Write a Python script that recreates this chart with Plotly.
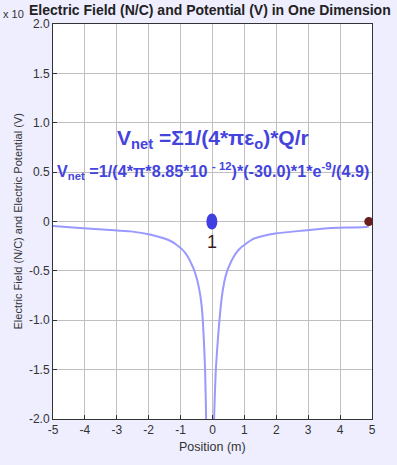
import plotly.graph_objects as go

# Potential curve (x in m, V in units of 10^3 V)
pot_x = [-5.0, -4.16, -3.2, -2.57, -2.0, -1.75, -1.53, -1.3, -1.11, -0.96, -0.85, -0.75,
         -0.66, -0.59, -0.49, -0.42, -0.36, -0.33, -0.30, -0.26, -0.23, -0.2, -0.19]
pot_y = [-0.045, -0.065, -0.085, -0.10, -0.13, -0.15, -0.17, -0.20, -0.24, -0.28, -0.32, -0.37,
         -0.43, -0.48, -0.58, -0.68, -0.80, -0.89, -1.02, -1.28, -1.53, -2.0, -2.4]
pot_x2 = [0.04, 0.05, 0.10, 0.17, 0.22, 0.29, 0.37, 0.45, 0.55, 0.66, 0.76, 0.87, 1.07,
          1.25, 1.49, 2.01, 2.74, 3.52, 4.82, 4.9]
pot_y2 = [-2.4, -2.0, -1.53, -1.19, -0.99, -0.77, -0.61, -0.51, -0.43, -0.36, -0.31, -0.27, -0.22,
          -0.18, -0.155, -0.12, -0.095, -0.07, -0.055, -0.05]

charge_x = [-0.02]
charge_y = [0.0]
charge_labels = ["1"]
test_x = [4.9]
test_y = [0.0]

x_ticks = [-5, -4, -3, -2, -1, 0, 1, 2, 3, 4, 5]
y_ticks = [2.0, 1.5, 1.0, 0.5, 0, -0.5, -1.0, -1.5, -2.0]
y_tick_text = ["2.0", "1.5", "1.0", "0.5", "0", "-0.5", "-1.0", "-1.5", "-2.0"]

FONT = "Liberation Sans, Arial, sans-serif"
TXT = "#333333"
BLUE = "#4444dd"
BG = "#eeeeff"

fig = go.Figure()
fig.add_trace(go.Scatter(x=pot_x, y=pot_y, mode="lines",
                         line=dict(color="#9999ff", width=2, shape="spline", smoothing=0.6),
                         hoverinfo="skip"))
fig.add_trace(go.Scatter(x=pot_x2, y=pot_y2, mode="lines",
                         line=dict(color="#9999ff", width=2, shape="spline", smoothing=0.6),
                         hoverinfo="skip"))
fig.add_trace(go.Scatter(x=test_x, y=test_y, mode="markers",
                         marker=dict(color="#6b1c1c", size=9, symbol="circle"),
                         cliponaxis=True))

shapes = []
for cx, cy in zip(charge_x, charge_y):
    shapes.append(dict(type="circle", xref="x", yref="y", xsizemode="pixel", ysizemode="pixel",
                       xanchor=cx, yanchor=cy, x0=-5.5, x1=5.5, y0=-8, y1=8,
                       fillcolor="#4040e0", line=dict(color="#4040e0", width=0)))

annotations = []
for cx, cy, lab in zip(charge_x, charge_y, charge_labels):
    annotations.append(dict(x=cx, y=cy, xref="x", yref="y", text=lab, showarrow=False,
                            yshift=-20, font=dict(family=FONT, size=18, color="#3a1a1a")))

annotations += [
    dict(x=0, y=1, xref="paper", yref="paper", xshift=-26, yshift=14.5, xanchor="left",
         yanchor="middle", showarrow=False,
         text="<b>Electric Field (N/C) and Potential (V) in One Dimension</b>",
         font=dict(family=FONT, size=14, color="#222222")),
    dict(x=0, y=1, xref="paper", yref="paper", xshift=-52, yshift=10, xanchor="left",
         yanchor="middle", showarrow=False, text="x 10",
         font=dict(family=FONT, size=11, color=TXT)),
    dict(x=0, y=0.84, xref="x", yref="y", showarrow=False, xanchor="center", yanchor="middle",
         text="<b>V<sub>net</sub> =Σ1/(4*πε<sub>o</sub>)*Q/r</b>",
         font=dict(family=FONT, size=21, color=BLUE)),
    dict(x=0, y=0.51, xref="x", yref="y", showarrow=False, xanchor="center", yanchor="middle",
         text="<b>V<sub>net</sub> =1/(4*π*8.85*10 <sup>- 12</sup>)*(-30.0)*1*e<sup>-9</sup>/(4.9)</b>",
         font=dict(family=FONT, size=16.2, color=BLUE)),
    dict(x=0, y=0.5, xref="paper", yref="paper", xshift=-36, xanchor="center",
         yanchor="middle", showarrow=False, textangle=-90,
         text="Electric Field (N/C) and Electric Potential (V)",
         font=dict(family=FONT, size=11, color=TXT)),
    dict(x=0.5, y=0, xref="paper", yref="paper", yshift=-28, xanchor="center",
         yanchor="middle", showarrow=False, text="Position (m)",
         font=dict(family=FONT, size=12.5, color=TXT)),
]

fig.update_layout(
    width=397, height=465,
    margin=dict(l=53, r=25, t=24, b=46),
    paper_bgcolor=BG, plot_bgcolor="#ffffff",
    showlegend=False,
    shapes=shapes,
    annotations=annotations,
    font=dict(family=FONT, size=12, color=TXT),
)
fig.update_xaxes(range=[-5, 5], tickvals=x_ticks, ticktext=[str(v) for v in x_ticks],
                 showgrid=True, gridcolor="#c0c0c0", gridwidth=1, zeroline=False,
                 showline=True, linecolor="#333333", linewidth=1, mirror=True,
                 ticks="inside", ticklen=4, tickcolor="#333333", automargin=False,
                 tickfont=dict(family=FONT, size=12, color=TXT))
fig.update_yaxes(range=[-2, 2], tickvals=y_ticks, ticktext=y_tick_text,
                 showgrid=True, gridcolor="#c0c0c0", gridwidth=1, zeroline=False,
                 showline=True, linecolor="#333333", linewidth=1, mirror=True,
                 ticks="inside", ticklen=4, tickcolor="#333333", automargin=False,
                 tickfont=dict(family=FONT, size=12, color=TXT))

fig.write_html("out.html", config={"displayModeBar": False},
               post_script="document.body.style.margin='0';document.body.style.padding='0';"
                           "document.body.style.background='" + BG + "';")
